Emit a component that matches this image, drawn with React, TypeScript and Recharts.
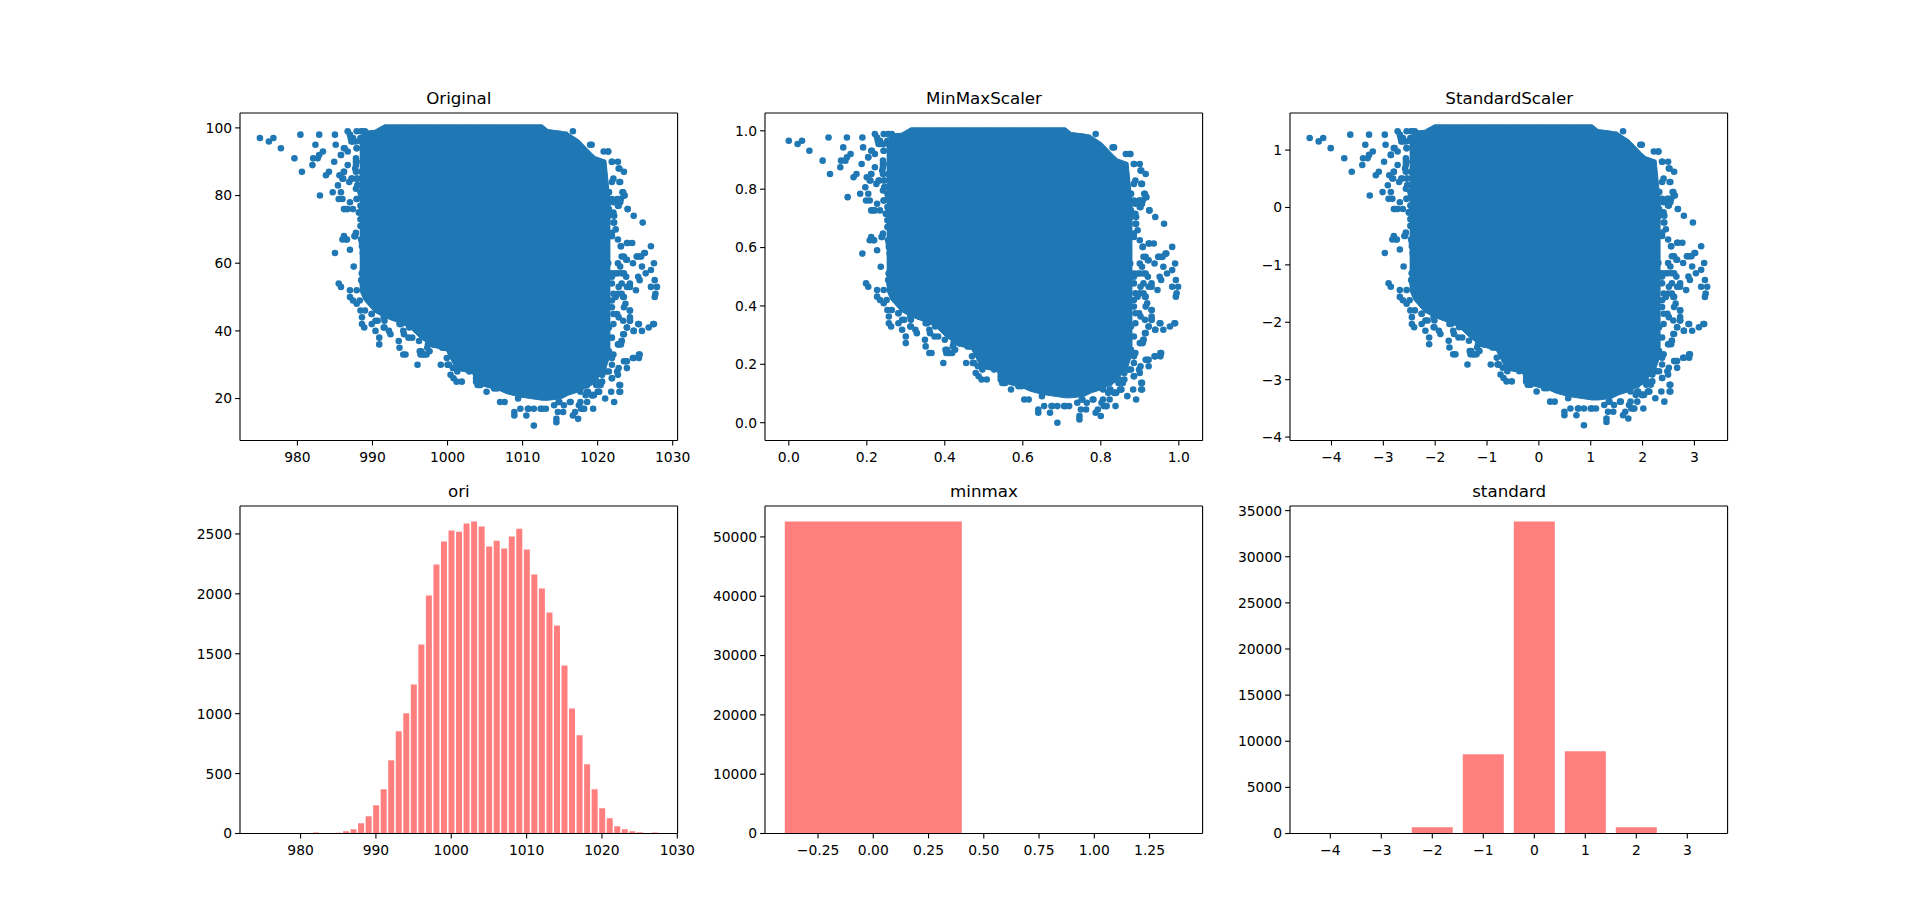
import {
  Area, Bar, BarChart, ComposedChart, ReferenceLine, Scatter, XAxis, YAxis, ZAxis,
} from 'recharts'

const edgePoints: [number, number][] = [
  [975.0, 97], [976.2, 96], [976.8, 97], [977.8, 94], [979.6, 91], [980.4, 98], [980.6, 87], [982.0, 89],
  [982.1, 91], [982.4, 95], [982.7, 91], [982.9, 98], [982.9, 92], [983.4, 93], [983.0, 80], [983.8, 86],
  [984.2, 87], [984.7, 81], [984.9, 90], [985.0, 98], [985.1, 95], [985.4, 83], [985.8, 92], [985.8, 81],
  [985.5, 79], [986.0, 79], [985.6, 86], [986.0, 85], [986.2, 87], [986.2, 94], [986.7, 93], [986.7, 89],
  [986.2, 76], [986.7, 76], [987.0, 78], [987.4, 76], [986.9, 84], [987.3, 85], [987.9, 90], [987.8, 91],
  [986.7, 99], [987.1, 97], [987.4, 96], [987.9, 99], [988.6, 99], [989.0, 99], [988.4, 97], [987.9, 94],
  [987.7, 88], [987.9, 85], [988.0, 83], [988.4, 81], [987.9, 79], [988.4, 77], [988.2, 75], [988.4, 73],
  [988.4, 71], [987.8, 69], [987.7, 68], [986.2, 68], [986.0, 67], [986.6, 67], [989.1, 69], [988.6, 67],
  [988.6, 65], [988.7, 63], [985.0, 63], [987.0, 64], [987.5, 59], [988.6, 57], [985.5, 54], [985.8, 53],
  [987.0, 52], [987.9, 52], [987.0, 50], [987.4, 49], [987.9, 48], [988.4, 46], [989.0, 46], [988.6, 44],
  [988.6, 42], [988.9, 41], [989.9, 45], [989.9, 42], [990.4, 40], [990.9, 38], [990.9, 36], [990.4, 43],
  [991.5, 44], [991.5, 41], [992.2, 40], [992.4, 39], [992.7, 44], [993.6, 42], [994.1, 40], [993.5, 37],
  [993.6, 35], [994.1, 33], [994.4, 33], [996.0, 30], [996.3, 34], [996.7, 33], [997.2, 33], [997.4, 36],
  [997.6, 34], [998.1, 36], [999.1, 30], [999.9, 32], [1000.1, 30], [1000.4, 27], [1000.8, 26], [1001.2, 25],
  [1001.9, 25], [999.3, 35], [999.8, 35], [1000.9, 32], [1003.8, 26], [1004.0, 24], [1004.4, 24], [1005.2, 22],
  [1005.5, 25], [1006.2, 23], [1007.0, 19], [1007.6, 19], [1008.9, 16], [1008.9, 15], [1009.7, 17], [1010.5, 15],
  [1011.5, 12], [1010.7, 17], [1009.4, 20], [1011.5, 17], [1012.6, 17], [1013.1, 17], [1014.5, 14], [1014.5, 13],
  [1014.2, 18], [1014.9, 19], [1014.7, 16], [1015.4, 16], [1015.5, 18], [1016.3, 19], [1016.7, 15], [1017.0, 16],
  [1017.4, 14], [1017.5, 18], [1017.8, 17], [1018.2, 17], [1018.6, 19], [1019.4, 17], [1018.7, 22], [1019.2, 21],
  [1019.5, 21], [1020.2, 22], [1021.0, 20], [1022.2, 19], [1021.8, 22], [1022.9, 24], [1022.9, 22], [1022.7, 27],
  [1023.9, 29], [1023.5, 31], [1023.9, 31], [1024.7, 32], [1025.5, 32], [1025.6, 33], [1023.1, 36], [1022.7, 36],
  [1023.2, 37], [1023.5, 39], [1024.8, 40], [1025.9, 40], [1026.8, 41], [1027.5, 42], [1025.5, 42], [1024.3, 43],
  [1023.9, 41], [1024.3, 44], [1024.3, 46], [1025.1, 52], [1024.3, 53], [1025.4, 56], [1025.6, 55], [1027.6, 55],
  [1027.1, 53], [1027.9, 53], [1027.7, 51], [1027.6, 50], [1026.4, 57], [1027.1, 58], [1027.5, 60], [1024.7, 60],
  [1025.9, 59], [1025.6, 62], [1025.2, 62], [1026.3, 63], [1027.1, 65], [1023.9, 66], [1024.6, 66], [1023.1, 65],
  [1023.5, 62], [1023.9, 61], [1026.0, 72], [1024.8, 74], [1024.0, 76], [1023.5, 80], [1023.4, 81], [1023.1, 79],
  [1022.8, 78], [1022.7, 77], [1023.5, 87], [1022.7, 90], [1021.9, 90], [1022.8, 88], [1023.0, 84], [1021.9, 84],
  [1021.4, 93], [1020.8, 93], [1019.2, 95], [1016.7, 99], [1015.7, 98], [1021.5, 81], [1021.9, 79], [1022.6, 79],
  [1022.2, 74], [1021.5, 76], [1022.2, 72], [1022.4, 70], [1022.7, 67], [1021.9, 68], [1021.4, 60], [1021.9, 57],
  [1021.2, 56], [1021.9, 54], [1022.7, 57], [1023.2, 54], [1022.7, 51], [1023.5, 50], [1023.5, 47], [1021.2, 48],
  [1022.4, 50], [1021.9, 47], [1022.6, 45], [1021.2, 41], [1020.6, 40], [1021.9, 38], [1021.2, 38], [1020.6, 37],
  [1021.2, 36], [1021.9, 32], [1021.2, 33], [1020.6, 32], [1021.9, 30], [1021.2, 28], [1020.6, 29], [1021.9, 26],
  [1022.6, 28], [1020.6, 25], [1019.8, 24], [1019.2, 25], [1018.6, 24], [1017.7, 22],
]

// second pass over closer crops, the fringe next to the mass
const fringePoints: [number, number][] = [
  [1023.2, 57], [1022.8, 53], [1023.9, 53], [1024.3, 54], [1023.2, 51], [1022.1, 51], [1023.4, 50], [1023.7, 48],
  [1021.9, 49], [1024.3, 46], [1022.1, 45], [1022.8, 44], [1023.4, 43], [1024.3, 43], [1023.9, 41], [1025.4, 42],
  [1024.8, 40], [1027.4, 42], [1022.1, 42], [1023.4, 39], [1023.2, 37], [1022.8, 36], [1021.5, 34], [1022.1, 33],
  [1022.8, 29], [1023.7, 31], [1024.8, 32], [1025.5, 33], [1021.5, 41], [1021.0, 45], [1021.0, 32], [1021.5, 28],
  [1020.6, 27], [1021.9, 26], [1020.4, 24], [1019.3, 21], [1018.6, 22], [1020.1, 22], [1023.0, 24], [1023.0, 22],
  [1019.0, 95], [1021.4, 93], [1021.9, 90], [1022.9, 88], [1022.1, 85], [1022.9, 84], [1021.5, 81], [1023.3, 81],
  [1023.6, 80], [1022.8, 79], [1022.1, 78], [1023.0, 78], [1022.8, 77], [1024.0, 76], [1022.1, 75], [1021.5, 74],
  [1022.1, 72], [1021.9, 69], [1024.0, 66], [1023.1, 65], [1026.2, 63], [1025.3, 62], [1025.8, 62], [1023.2, 62],
  [1023.8, 61], [1022.7, 60], [1023.0, 59], [1021.4, 57], [1022.4, 57], [1023.5, 57], [1023.8, 56], [1021.9, 56],
  [987.0, 98], [987.4, 97], [988.5, 99], [987.8, 96], [987.2, 96], [988.5, 96], [987.9, 94], [986.3, 94],
  [985.8, 92], [987.8, 90], [987.8, 89], [987.8, 87], [988.5, 87], [986.2, 87], [986.1, 85], [987.2, 85],
  [988.0, 85], [988.0, 83], [988.5, 83], [987.8, 82], [987.9, 79], [988.5, 80], [988.5, 77], [986.4, 76],
  [988.2, 75], [988.6, 76], [988.6, 73], [988.5, 71], [988.9, 70], [987.6, 68], [986.5, 67], [988.5, 67],
  [989.2, 69], [988.6, 66], [989.4, 63], [989.2, 61], [988.6, 57], [988.5, 55], [988.7, 54], [988.3, 49],
  [989.2, 50], [989.9, 45], [990.7, 43], [991.6, 41], [991.6, 43], [992.9, 44], [993.8, 42], [994.9, 41],
  [994.2, 39], [994.8, 38], [995.3, 38], [996.2, 37], [996.5, 34], [997.3, 35], [996.4, 33], [996.9, 33],
  [998.2, 36], [1000.0, 30], [999.6, 35], [1000.2, 30], [1000.7, 29], [1001.3, 28], [1002.9, 28], [1003.8, 27],
  [1003.8, 25], [1004.2, 24], [1006.6, 23], [1005.8, 25], [1010.8, 17], [1012.4, 17], [1014.8, 19], [1016.4, 19],
  [1017.7, 19], [1018.1, 17], [1019.3, 21], [1018.4, 21], [1020.0, 22], [1018.8, 25], [1019.9, 25],
]

// outline of the solid mass of overlapping dots
const massPressure = [988.3, 988.9, 990.3, 991.6, 993.6, 994.9, 996.2, 998, 999.8, 1001.2, 1003.3, 1004.2, 1006.9, 1007.8, 1009.5, 1012.6, 1013.4, 1015.2, 1016.1, 1017.5, 1019.2, 1019.7, 1021.1, 1021.7]
const massLow = [52, 49, 45.5, 44, 42.3, 41, 38.2, 35.2, 34.3, 28.4, 27.5, 24, 22.4, 21.5, 20.5, 19.5, 19.5, 20, 21, 22, 24, 25, 29, 33]
const massHigh = [96, 99, 99.3, 100.9, 100.9, 100.9, 100.9, 100.9, 100.9, 100.9, 100.9, 100.9, 100.9, 100.9, 100.9, 100.9, 99.5, 99, 98.4, 96.4, 92.5, 91.5, 90.4, 77]

const oriBins = [975, 977, 980, 982, 985, 986, 987, 988, 989, 990, 991, 992, 993, 994, 995, 996, 997, 998, 999, 1000, 1001, 1002, 1003, 1004, 1005, 1006, 1007, 1008, 1009, 1010, 1011, 1012, 1013, 1014, 1015, 1016, 1017, 1018, 1019, 1020, 1021, 1022, 1023, 1024, 1025, 1027]
const oriCounts = [1, 1, 1, 8, 7, 19, 36, 86, 144, 236, 369, 611, 853, 1003, 1244, 1578, 1986, 2244, 2436, 2528, 2519, 2586, 2603, 2561, 2394, 2444, 2378, 2478, 2544, 2369, 2161, 2044, 1844, 1736, 1403, 1044, 819, 578, 369, 211, 128, 61, 36, 19, 11, 8]
const minmaxBins = [0, 1]
const minmaxCounts = [52580, 4]
const standardBins = [-4, -3, -2, -1, 0, 1, 2, 3]
const standardCounts = [3, 40, 686, 8590, 33810, 8914, 686, 40]

const scatterXTicks = [980, 990, 1000, 1010, 1020, 1030]
const scatterYTicks = [20, 40, 60, 80, 100]
const unitTicks = [0, 0.2, 0.4, 0.6, 0.8, 1]
const sigmaXTicks = [-4, -3, -2, -1, 0, 1, 2, 3]
const sigmaYTicks = [-4, -3, -2, -1, 0, 1]
const oriYTicks = [0, 500, 1000, 1500, 2000, 2500]
const minmaxXTicks = [-0.25, 0, 0.25, 0.5, 0.75, 1, 1.25]
const minmaxYTicks = [0, 10000, 20000, 30000, 40000, 50000]
const standardYTicks = [0, 5000, 10000, 15000, 20000, 25000, 30000, 35000]

const DOT = '#1f77b4'
const BAR = '#ff7f7f'
const FONT = '"DejaVu Sans", sans-serif'
const GUTTER = 60
const PW = 437.6
const PH = 327.5
const COLS = [240, 765.2, 1290.4]
const ROWS = [112.7, 505.5]

const fmt = (v: number) => String(v).replace('-', '\u2212')
const fmt1 = (v: number) => v.toFixed(1)
const fmt2 = (v: number) => v.toFixed(2).replace('-', '\u2212')

type Scale = (v: number) => number

// same dots in the three top panels, the scalers just rescale the axes' units
const identity: Scale = (v) => v
const minmaxX: Scale = (v) => (v - 975) / 53
const minmaxY: Scale = (v) => (v - 12) / 88
const standardX: Scale = (v) => (v - 1005.5) / 6.9
const standardY: Scale = (v) => (v - 76.45) / 16.98

function Title({ text, col, row }: { text: string; col: number; row: number }) {
  return (
    <div style={{
      position: 'absolute', left: COLS[col], top: ROWS[row] - 24.5, width: PW, textAlign: 'center',
      fontFamily: FONT, fontSize: 16.7, lineHeight: '20px', color: '#000',
    }}>
      {text}
    </div>
  )
}

const tickStyle = { fill: '#000', fontSize: 13.9, fontFamily: FONT }
const axisLine = { stroke: '#000', strokeWidth: 1.1 }
const tickLine = { stroke: '#000', strokeWidth: 1.1 }

function ScatterPanel({ title, col, sx, sy, xDomain, yDomain, xTicks, yTicks, xFormat = fmt, yFormat = fmt }: {
  title: string; col: number; sx: Scale; sy: Scale
  xDomain: [number, number]; yDomain: [number, number]
  xTicks: number[]; yTicks: number[]
  xFormat?: (v: number) => string; yFormat?: (v: number) => string
}) {
  const mass = massPressure.map((p, i) => ({ x: sx(p), range: [sy(massLow[i]), sy(massHigh[i])] }))
  const dots = [...edgePoints, ...fringePoints].map(([p, h]) => ({ x: sx(p), y: sy(h) }))
  return (
    <>
      <Title text={title} col={col} row={0} />
      <div style={{ position: 'absolute', left: COLS[col] - GUTTER, top: ROWS[0] - 10 }}>
        <ComposedChart
          width={PW + GUTTER + 20} height={PH + 10 + 30} data={mass}
          margin={{ top: 10, right: 20, bottom: 0, left: 0 }}
        >
          <XAxis
            dataKey="x" type="number" domain={xDomain} ticks={xTicks} interval={0} height={30}
            allowDataOverflow tick={tickStyle} tickFormatter={xFormat}
            axisLine={axisLine} tickLine={tickLine} tickSize={4.9} tickMargin={7}
          />
          <YAxis
            dataKey="y" type="number" domain={yDomain} ticks={yTicks} interval={0} width={GUTTER}
            allowDataOverflow tick={tickStyle} tickFormatter={yFormat}
            axisLine={axisLine} tickLine={tickLine} tickSize={4.9} tickMargin={3}
          />
          <ZAxis range={[34, 34]} />
          <Area dataKey="range" type="linear" fill={DOT} fillOpacity={1} stroke={DOT} strokeWidth={1} dot={false} activeDot={false} isAnimationActive={false} />
          <Scatter data={dots} fill={DOT} isAnimationActive={false} />
          <ReferenceLine y={yDomain[1]} stroke="#000" strokeWidth={1.1} />
          <ReferenceLine x={xDomain[1]} stroke="#000" strokeWidth={1.1} />
        </ComposedChart>
      </div>
    </>
  )
}

function BarPanel({ title, col, bins, counts, xDomain, yMax, xTicks, yTicks, barSize, xFormat = fmt }: {
  title: string; col: number; bins: number[]; counts: number[]
  xDomain: [number, number]; yMax: number; xTicks: number[]; yTicks: number[]
  barSize: number; xFormat?: (v: number) => string
}) {
  const data = bins.map((x, i) => ({ x, count: counts[i] }))
  return (
    <>
      <Title text={title} col={col} row={1} />
      <div style={{ position: 'absolute', left: COLS[col] - GUTTER, top: ROWS[1] - 10 }}>
        <BarChart
          width={PW + GUTTER + 20} height={PH + 10 + 30} data={data}
          margin={{ top: 10, right: 20, bottom: 0, left: 0 }}
        >
          <XAxis
            dataKey="x" type="number" domain={xDomain} ticks={xTicks} interval={0} height={30}
            allowDataOverflow tick={tickStyle} tickFormatter={xFormat}
            axisLine={axisLine} tickLine={tickLine} tickSize={4.9} tickMargin={7}
          />
          <YAxis
            type="number" domain={[0, yMax]} ticks={yTicks} interval={0} width={GUTTER}
            allowDataOverflow tick={tickStyle}
            axisLine={axisLine} tickLine={tickLine} tickSize={4.9} tickMargin={3}
          />
          <Bar dataKey="count" fill={BAR} barSize={barSize} isAnimationActive={false} />
          <ReferenceLine y={yMax} stroke="#000" strokeWidth={1.1} />
          <ReferenceLine x={xDomain[1]} stroke="#000" strokeWidth={1.1} />
        </BarChart>
      </div>
    </>
  )
}

export default function App() {
  return (
    <div style={{ position: 'absolute', left: 0, top: 0, width: 1920, height: 924, background: '#fff', overflow: 'hidden' }}>
      <ScatterPanel title="Original" col={0} sx={identity} sy={identity}
        xDomain={[972.35, 1030.65]} yDomain={[7.6, 104.4]} xTicks={scatterXTicks} yTicks={scatterYTicks} />
      <ScatterPanel title="MinMaxScaler" col={1} sx={minmaxX} sy={minmaxY}
        xDomain={[-0.061, 1.061]} yDomain={[-0.061, 1.061]} xTicks={unitTicks} yTicks={unitTicks} xFormat={fmt1} yFormat={fmt1} />
      <ScatterPanel title="StandardScaler" col={2} sx={standardX} sy={standardY}
        xDomain={[-4.8, 3.64]} yDomain={[-4.06, 1.646]} xTicks={sigmaXTicks} yTicks={sigmaYTicks} />
      <BarPanel title="ori" col={0} bins={oriBins} counts={oriCounts}
        xDomain={[971.96, 1030.04]} yMax={2733} xTicks={scatterXTicks} yTicks={oriYTicks} barSize={6} />
      <BarPanel title="minmax" col={1} bins={minmaxBins} counts={minmaxCounts}
        xDomain={[-0.49, 1.49]} yMax={55213} xTicks={minmaxXTicks} yTicks={minmaxYTicks} barSize={177} xFormat={fmt2} />
      <BarPanel title="standard" col={2} bins={standardBins} counts={standardCounts}
        xDomain={[-4.79, 3.79]} yMax={35500} xTicks={sigmaXTicks} yTicks={standardYTicks} barSize={41} />
    </div>
  )
}
